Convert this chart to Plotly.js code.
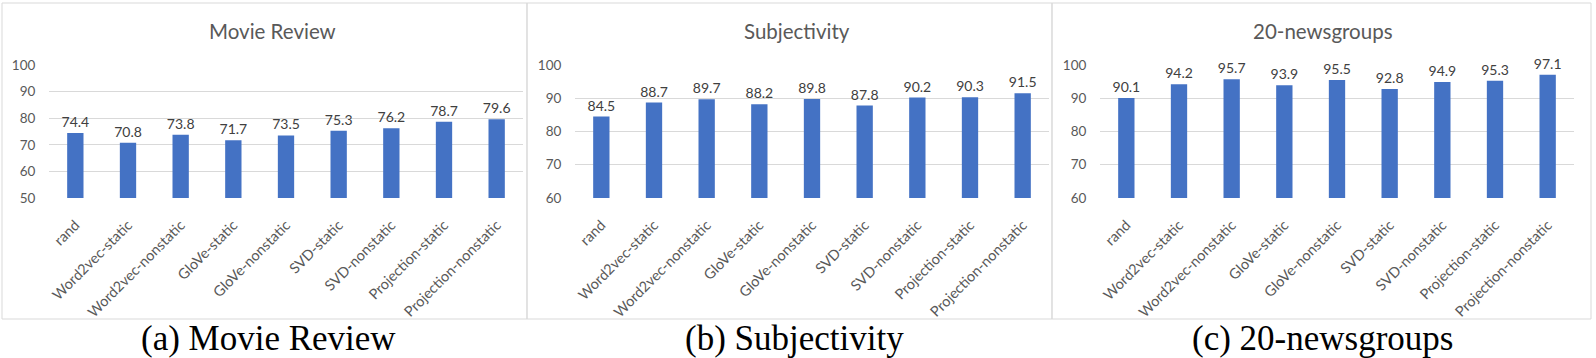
<!DOCTYPE html>
<html>
<head>
<meta charset="utf-8">
<script src="https://cdn.plot.ly/plotly-3.0.1.min.js"></script>
<style>
  html, body { margin: 0; padding: 0; background: #fff; }
  #chart { width: 1596px; height: 358px; }
</style>
</head>
<body>
<div id="chart"></div>
<script>
  "use strict";

  // categories shared by the three panels
  var methods = ["rand", "Word2vec-static", "Word2vec-nonstatic", "GloVe-static", "GloVe-nonstatic",
    "SVD-static", "SVD-nonstatic", "Projection-static", "Projection-nonstatic"];

  var movieReview = [74.4, 70.8, 73.8, 71.7, 73.5, 75.3, 76.2, 78.7, 79.6];
  var subjectivity = [84.5, 88.7, 89.7, 88.2, 89.8, 87.8, 90.2, 90.3, 91.5];
  var newsgroups = [90.1, 94.2, 95.7, 93.9, 95.5, 92.8, 94.9, 95.3, 97.1];

  var panelTitles = ["Movie Review", "Subjectivity", "20-newsgroups"];
  var captions = ["(a) Movie Review", "(b) Subjectivity", "(c) 20-newsgroups"];
  var yMins = [50, 60, 60];

  var W = 1596, H = 358;
  var INK = "#595959", BAR = "#4472C4", GRID = "#D9D9D9";
  var SANS = "Lato, Open Sans, sans-serif";
  var SERIF = "Liberation Serif, Times New Roman, serif";

  var panels = [
    { frame: [2, 527], plot: [49, 523], title: 272, caption: 268 },
    { frame: [527, 1052], plot: [575, 1049], title: 797, caption: 794 },
    { frame: [1052, 1591], plot: [1100, 1574], title: 1323, caption: 1322 }
  ];
  var PLOT_TOP = 65, PLOT_BOT = 198, FRAME_TOP = 3, FRAME_BOT = 319;

  function px(x) { return x / W; }
  function py(y) { return 1 - y / H; }

  var series = [movieReview, subjectivity, newsgroups];
  var traces = [], layout = {
    width: W, height: H, autosize: false,
    margin: { l: 0, r: 0, t: 0, b: 0 },
    paper_bgcolor: "#fff", plot_bgcolor: "#fff",
    showlegend: false, bargap: 0.69,
    font: { family: SANS, color: INK },
    shapes: [], annotations: []
  };

  series.forEach(function (vals, i) {
    var sfx = i === 0 ? "" : String(i + 1);
    var p = panels[i];
    traces.push({
      type: "bar", x: methods, y: vals,
      xaxis: "x" + sfx, yaxis: "y" + sfx,
      marker: { color: BAR },
      text: vals.map(function (v) { return v.toFixed(1); }),
      textposition: "outside", cliponaxis: false, constraintext: "none",
      textfont: { family: SANS, size: 14, color: "#404040" },
      hoverinfo: "skip"
    });
    layout["xaxis" + sfx] = {
      domain: [px(p.plot[0]), px(p.plot[1])], anchor: "y" + sfx,
      type: "category", tickangle: -45,
      ticks: "outside", ticklen: 12, tickcolor: "rgba(0,0,0,0)",
      showgrid: false, showline: false, zeroline: false,
      tickfont: { family: SANS, size: 14.5, color: INK }
    };
    layout["yaxis" + sfx] = {
      domain: [py(PLOT_BOT), py(PLOT_TOP)], anchor: "x" + sfx,
      range: [yMins[i], 100], dtick: 10, tick0: 0,
      ticks: "outside", ticklen: 10, tickcolor: "rgba(0,0,0,0)",
      showgrid: true, gridcolor: GRID, gridwidth: 1,
      showline: false, zeroline: false,
      tickfont: { family: SANS, size: 13.5, color: INK }
    };
    layout.shapes.push({
      type: "rect", xref: "paper", yref: "paper",
      x0: px(p.frame[0]), x1: px(p.frame[1]), y0: py(FRAME_BOT), y1: py(FRAME_TOP),
      line: { color: GRID, width: 1 }, fillcolor: "rgba(0,0,0,0)", layer: "below"
    });
    layout.annotations.push({
      xref: "paper", yref: "paper", x: px(p.title), y: py(31),
      xanchor: "center", yanchor: "middle", showarrow: false,
      text: panelTitles[i], font: { family: SANS, size: 20.5, color: INK }
    });
    layout.annotations.push({
      xref: "paper", yref: "paper", x: px(p.caption), y: py(338),
      xanchor: "center", yanchor: "middle", showarrow: false,
      text: captions[i], font: { family: SERIF, size: 35, color: "#000" }
    });
  });

  Plotly.newPlot("chart", traces, layout, { displayModeBar: false, staticPlot: true });
</script>
</body>
</html>
